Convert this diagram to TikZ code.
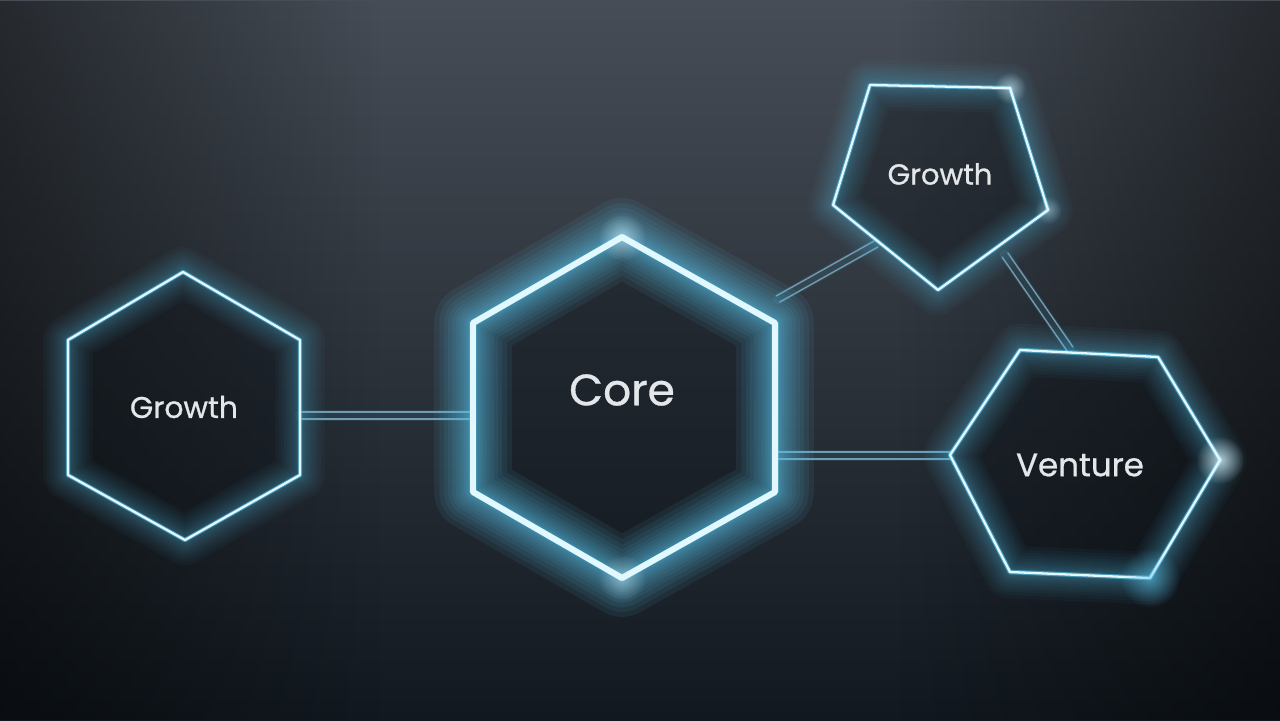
\documentclass[tikz,border=0pt]{standalone}
\usepackage{fontspec}
\setmainfont{Poppins}
\newfontfamily\lblfont{Poppins}[FakeBold=0.8]
\usetikzlibrary{calc,fadings}
\definecolor{glowc}{HTML}{5CC8F0}
\definecolor{linec}{HTML}{E2F8FF}
\definecolor{connc}{HTML}{6E9CB2}
\definecolor{txtc}{HTML}{E4E7EA}
\definecolor{bgtop}{HTML}{464D56}
\definecolor{bgmid}{HTML}{282E35}
\definecolor{bgbot}{HTML}{11181F}
\definecolor{fillc}{HTML}{0A1016}
\tikzfading[name=spot, inner color=transparent!0, outer color=transparent!100]
\tikzset{
  halo/.style={draw=glowc, line join=round, line cap=round},
  rim/.style={draw=linec, line join=round, line width=#1},
  conn/.style={draw=connc, line width=0.8pt, line cap=round},
  connglow/.style={draw=glowc, opacity=0.10, line width=6pt, line cap=round},
  lbl/.style={text=txtc, inner sep=0pt},
}
% path, width scale, rim width, layer opacity
\newcommand\glowpoly[4]{%
  \fill[fillc, opacity=0.35] #1;
  \foreach \i in {1,...,14}{%
    \pgfmathsetmacro\ww{#2*(2+\i*\i*0.17)}%
    \draw[halo, line width=\ww pt, opacity=#4] #1;}
  \pgfmathsetmacro\ww{#2*3}%
  \draw[halo, line width=\ww pt, opacity=0.55] #1;
  \draw[rim=#3] #1;
}
\newcommand\dblconn[2]{%
  \draw[connglow] (#1) -- (#2);
  \draw[conn] ($(#1)!2pt!90:(#2)$) -- ($(#2)!2pt!-90:(#1)$);
  \draw[conn] ($(#1)!2pt!-90:(#2)$) -- ($(#2)!2pt!90:(#1)$);
}
\begin{document}
\begin{tikzpicture}[x=0.02cm,y=-0.02cm]
\useasboundingbox (0,0) rectangle (1280,720);
\shade[top color=bgtop, middle color=bgmid, bottom color=bgbot] (0,0) rectangle (1280,720);
\fill[black, opacity=0.45, path fading=east] (0,0) rectangle (380,720);
\fill[black, opacity=0.45, path fading=west] (900,0) rectangle (1280,720);

% vertices
\coordinate (L1) at (183,272); \coordinate (L2) at (300,340); \coordinate (L3) at (300,475);
\coordinate (L4) at (185,540); \coordinate (L5) at (68,475);  \coordinate (L6) at (68,340);
\coordinate (C1) at (622,237); \coordinate (C2) at (775,323); \coordinate (C3) at (775,492);
\coordinate (C4) at (622,578); \coordinate (C5) at (473,492); \coordinate (C6) at (473,323);
\coordinate (P1) at (870,85);  \coordinate (P2) at (1010,88); \coordinate (P3) at (1048,210);
\coordinate (P4) at (938,290); \coordinate (P5) at (833,205);
\coordinate (V1) at (1020,350); \coordinate (V2) at (1158,357); \coordinate (V3) at (1220,460);
\coordinate (V4) at (1150,578); \coordinate (V5) at (1010,572); \coordinate (V6) at (950,455);

% connector ends
\coordinate (a1) at (300,415.5); \coordinate (a2) at (473,415.5);
\coordinate (b1) at (775,455.5); \coordinate (b2) at (950,455.5);
\coordinate (k1) at (778,299);   \coordinate (k2) at (876,244);
\coordinate (m1) at (1005,255);  \coordinate (m2) at (1070,349);

\dblconn{a1}{a2}
\dblconn{b1}{b2}
\dblconn{k1}{k2}
\dblconn{m1}{m2}

\glowpoly{(L1)--(L2)--(L3)--(L4)--(L5)--(L6)--cycle}{0.8}{1.3pt}{0.035}
\glowpoly{(P1)--(P2)--(P3)--(P4)--(P5)--cycle}{0.8}{1.3pt}{0.035}
\glowpoly{(V1)--(V2)--(V3)--(V4)--(V5)--(V6)--cycle}{0.85}{1.3pt}{0.04}
\glowpoly{(C1)--(C2)--(C3)--(C4)--(C5)--(C6)--cycle}{1.25}{3.4pt}{0.08}

\fill[linec, opacity=0.7, path fading=spot] (V3) circle (24);
\fill[glowc, opacity=0.5, path fading=spot] (V4) circle (30);
\fill[linec, opacity=0.5, path fading=spot] (P2) circle (16);
\fill[linec, opacity=0.35, path fading=spot] (P3) circle (14);
\fill[linec, opacity=0.5, path fading=spot] (C1) circle (24);
\fill[linec, opacity=0.4, path fading=spot] (C4) circle (24);

\node[lbl, font=\lblfont\fontsize{17}{20}\selectfont] (g1) at (184,407) {Growth};
\node[lbl, font=\lblfont\fontsize{25}{30}\selectfont] (core) at (622,390) {Core};
\node[lbl, font=\lblfont\fontsize{16.5}{20}\selectfont] (g2) at (940,174) {Growth};
\node[lbl, font=\lblfont\fontsize{18.5}{22}\selectfont] (ven) at (1080,465) {Venture};
\end{tikzpicture}
\end{document}
